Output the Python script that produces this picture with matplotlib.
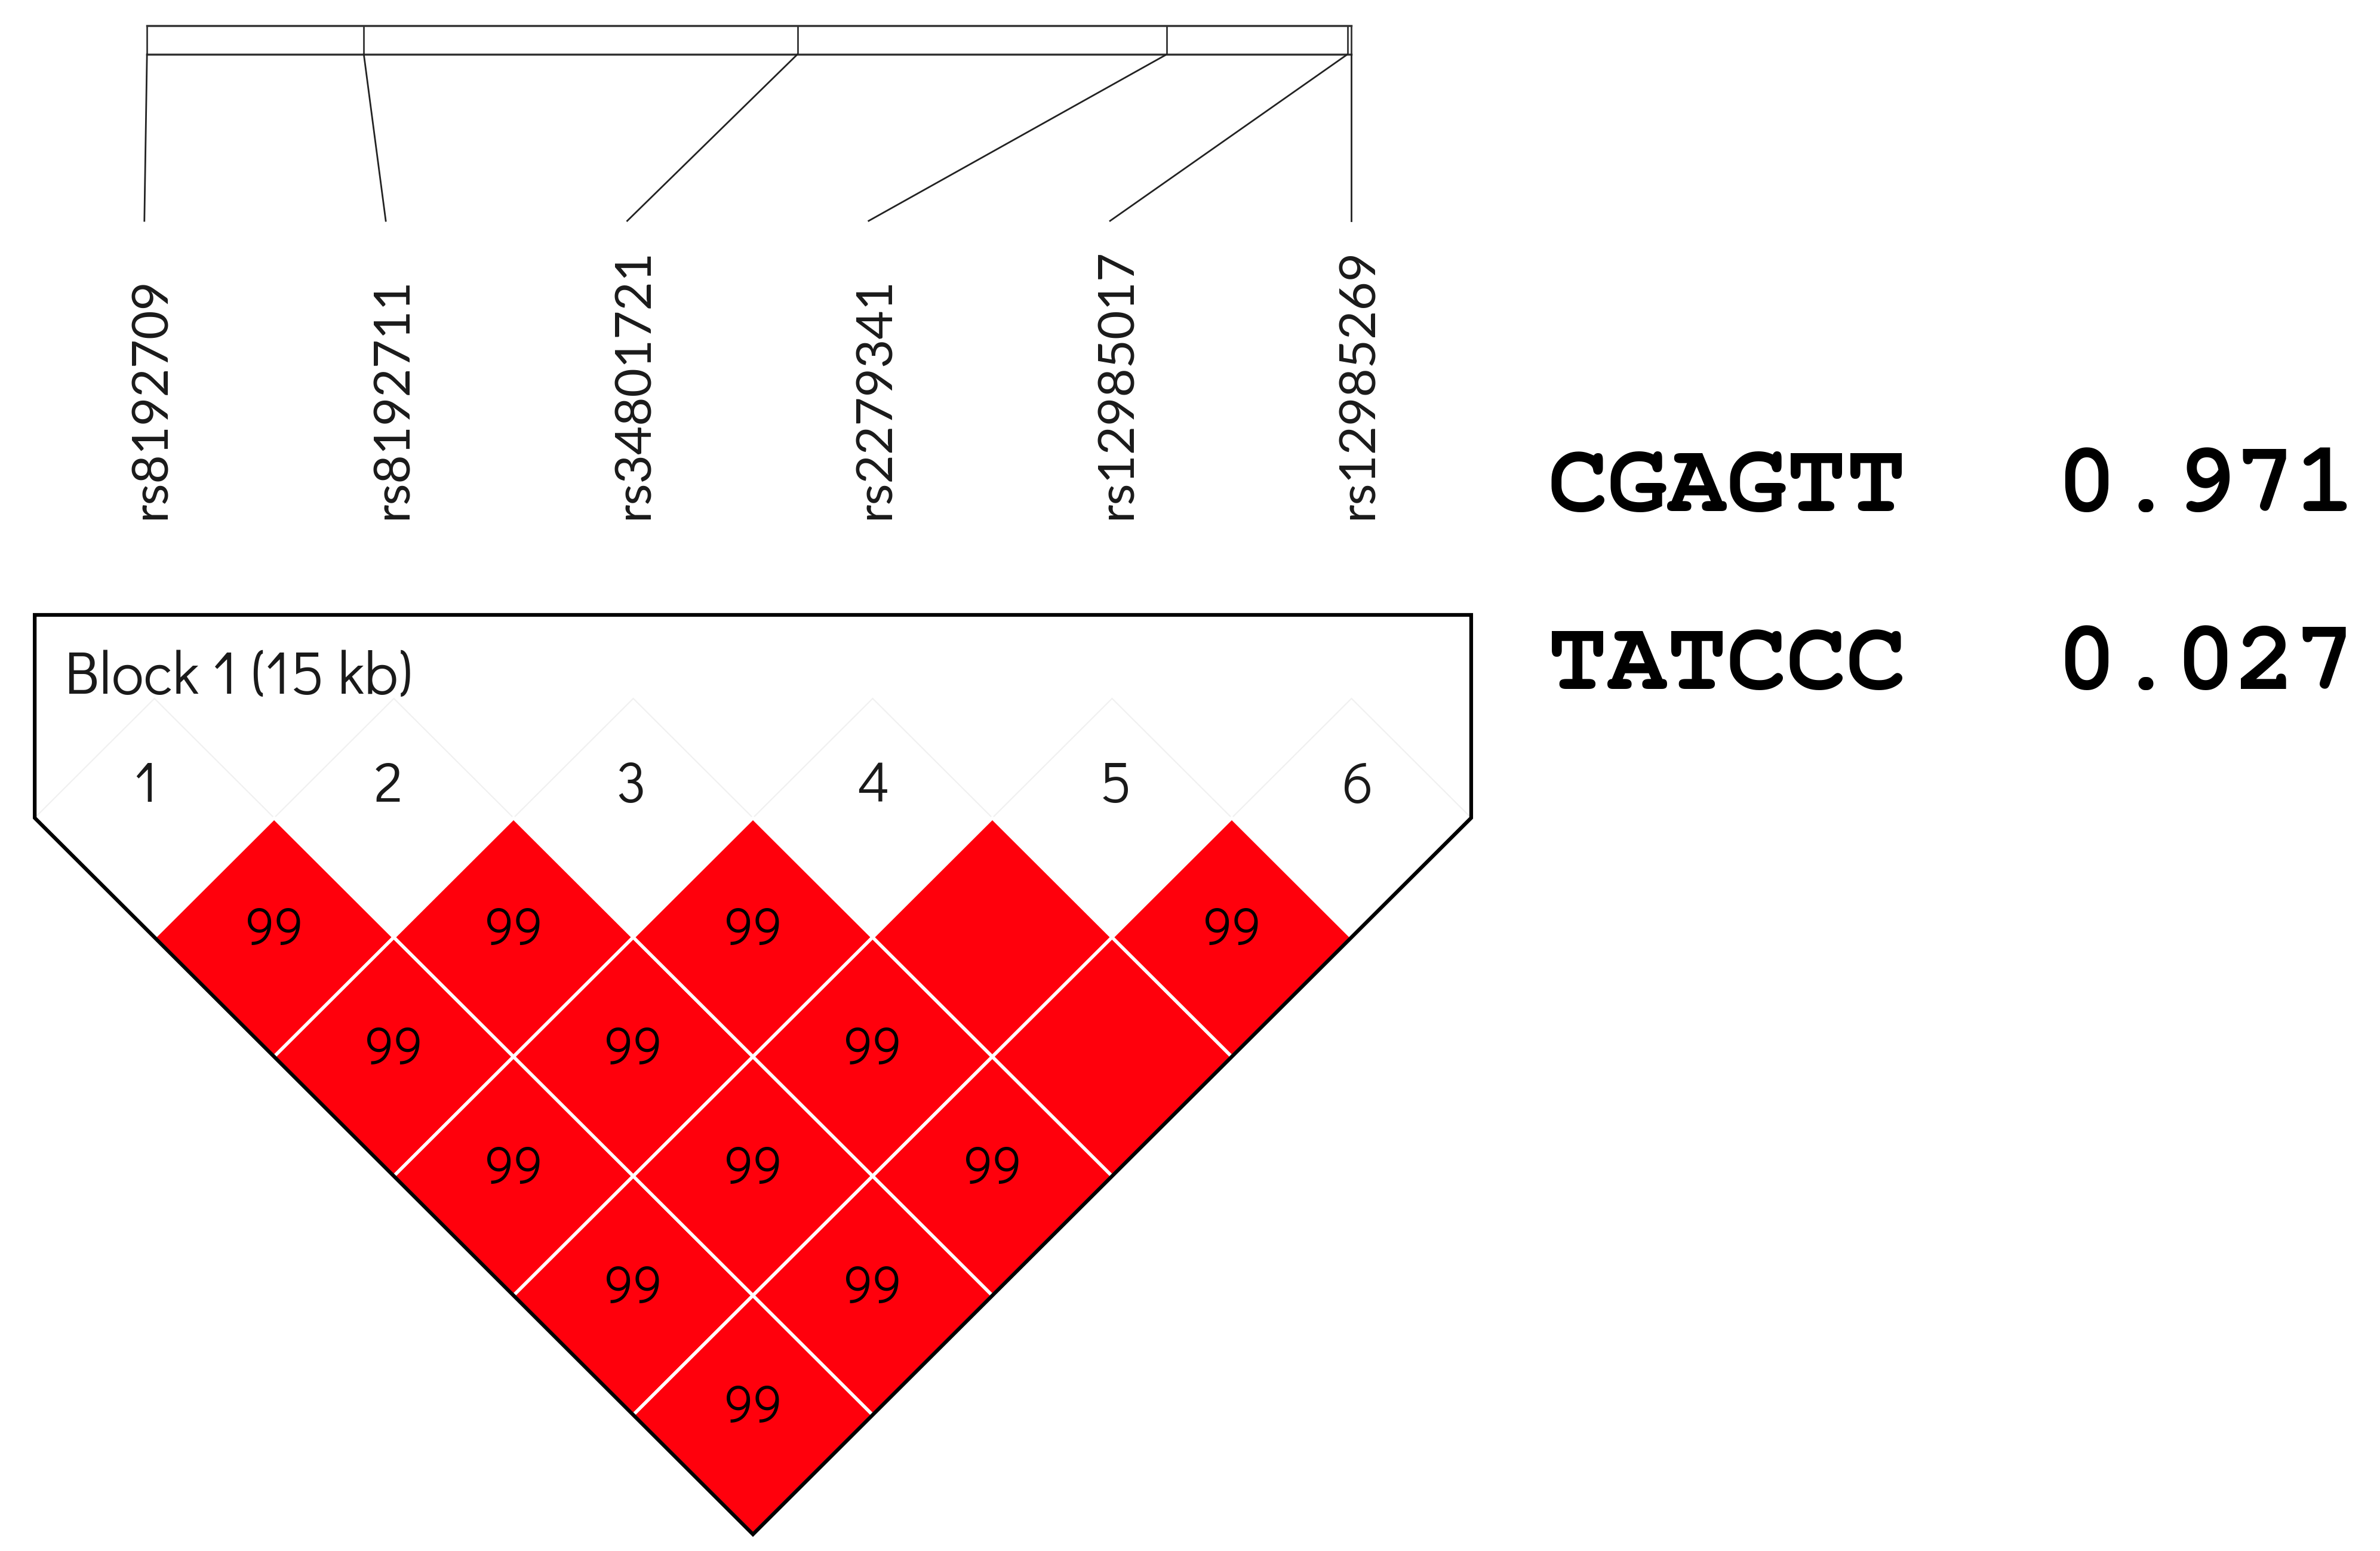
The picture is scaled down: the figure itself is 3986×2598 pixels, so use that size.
import matplotlib.pyplot as plt
from matplotlib.patches import Polygon

# marker names and physical positions (kb, relative to first marker)
markers = ['rs8192709', 'rs8192711', 'rs34801721', 'rs2279341', 'rs12985017', 'rs12985269']
positions_kb = [0.0, 2.7, 8.1, 12.7, 14.95, 15.0]

# D' x 100 for each marker i against markers j > i (100 = shown blank)
dprime = [
    [99, 99, 99, 99, 99],
    [99, 99, 99, 99],
    [99, 99, 99],
    [100, 100],
    [99],
]

block_label = 'Block 1 (15 kb)'
hap_strings = ['CGAGTT', 'TATCCC']
hap_freqs = [0.971, 0.027]

RED = '#ff000c'
TXT = '#1a1a1a'
SANS = ['Didact Gothic', 'Lato', 'DejaVu Sans']
LABEL_FONT = ['Lato', 'DejaVu Sans']
MONO = ['FreeMono', 'Courier Prime', 'DejaVu Sans Mono']


def diamond(cx, cy, r=0.5):
    return [(cx, cy + r), (cx + r, cy), (cx, cy - r), (cx - r, cy)]


fig = plt.figure(figsize=(39.86, 25.98), dpi=100)
ax = fig.add_axes([0, 0, 1, 1])
ax.set_xlim(0.355, 10.296)
ax.set_ylim(-3.07, 3.425)
ax.axis('off')

n = len(markers)
xs = list(range(1, n + 1))

# faint marker diamonds along the top row, with marker numbers
for x in xs:
    ax.add_patch(Polygon(diamond(x, 0), closed=True, facecolor='none',
                         edgecolor='#f0f0f0', lw=1.5, zorder=1))
    ax.text(0.964 + (x - 1) * 1.0126, 0.13, str(x), ha='center', va='center',
            fontsize=68, family=SANS, color=TXT, zorder=5)

# LD cells
for i, row in enumerate(dprime):
    for k, val in enumerate(row):
        a = i + 1
        b = a + k + 1
        cx = (a + b) / 2
        cy = -(b - a) / 2
        ax.add_patch(Polygon(diamond(cx, cy), closed=True, facecolor=RED,
                             edgecolor='white', lw=4, zorder=2))
        if val < 100:
            ax.text(cx, cy + 0.03, str(val), ha='center', va='center',
                    fontsize=62, family=SANS, color='black', zorder=5)

# block outline
ytop = 0.85
outline = [(0.5, ytop), (n + 0.5, ytop), (n + 0.5, 0),
           ((n + 1) / 2, -(n / 2)), (0.5, 0)]
ax.add_patch(Polygon(outline, closed=True, facecolor='none',
                     edgecolor='black', lw=4.5, joinstyle='miter', zorder=4))
ax.text(0.625, 0.52, block_label, fontsize=73, family=SANS, color=TXT,
        va='baseline', ha='left', zorder=5)

# marker names and connectors
step = 1.0084
line_x = [0.958 + (x - 1) * step for x in xs]
for lx, name in zip(line_x, markers):
    ax.text(lx + 0.03, 1.25, name, rotation=90, ha='center', va='bottom',
            fontsize=60, family=LABEL_FONT, color=TXT)

# physical position bar
p0, p1 = positions_kb[0], positions_kb[-1]
bar_lo, bar_hi = 0.969, 6.0
bar_x = [bar_lo + (bar_hi - bar_lo) * (p - p0) / (p1 - p0) for p in positions_kb]
y_hi, y_lo = 3.3175, 3.1975
ax.plot([bar_x[0], bar_x[-1]], [y_hi, y_hi], color='#333333', lw=2.5)
ax.plot([bar_x[0], bar_x[-1]], [y_lo, y_lo], color='#333333', lw=2.5)
for bx in bar_x:
    ax.plot([bx, bx], [y_lo, y_hi], color='#333333', lw=2)
for lx, bx in zip(line_x, bar_x):
    ax.plot([lx, bx], [2.5, y_lo], color='#222222', lw=2)

# haplotype frequencies
hap_y = [1.285, 0.54]
for s, f, y in zip(hap_strings, hap_freqs, hap_y):
    ax.text(6.82, y, s, family=MONO, fontweight='bold', fontsize=120,
            va='baseline', ha='left', color='black')
    ax.text(8.945, y, f'{f:.3f}', family=MONO, fontweight='bold', fontsize=120,
            va='baseline', ha='left', color='black')

fig.savefig('out.png', dpi=100, facecolor='white')
